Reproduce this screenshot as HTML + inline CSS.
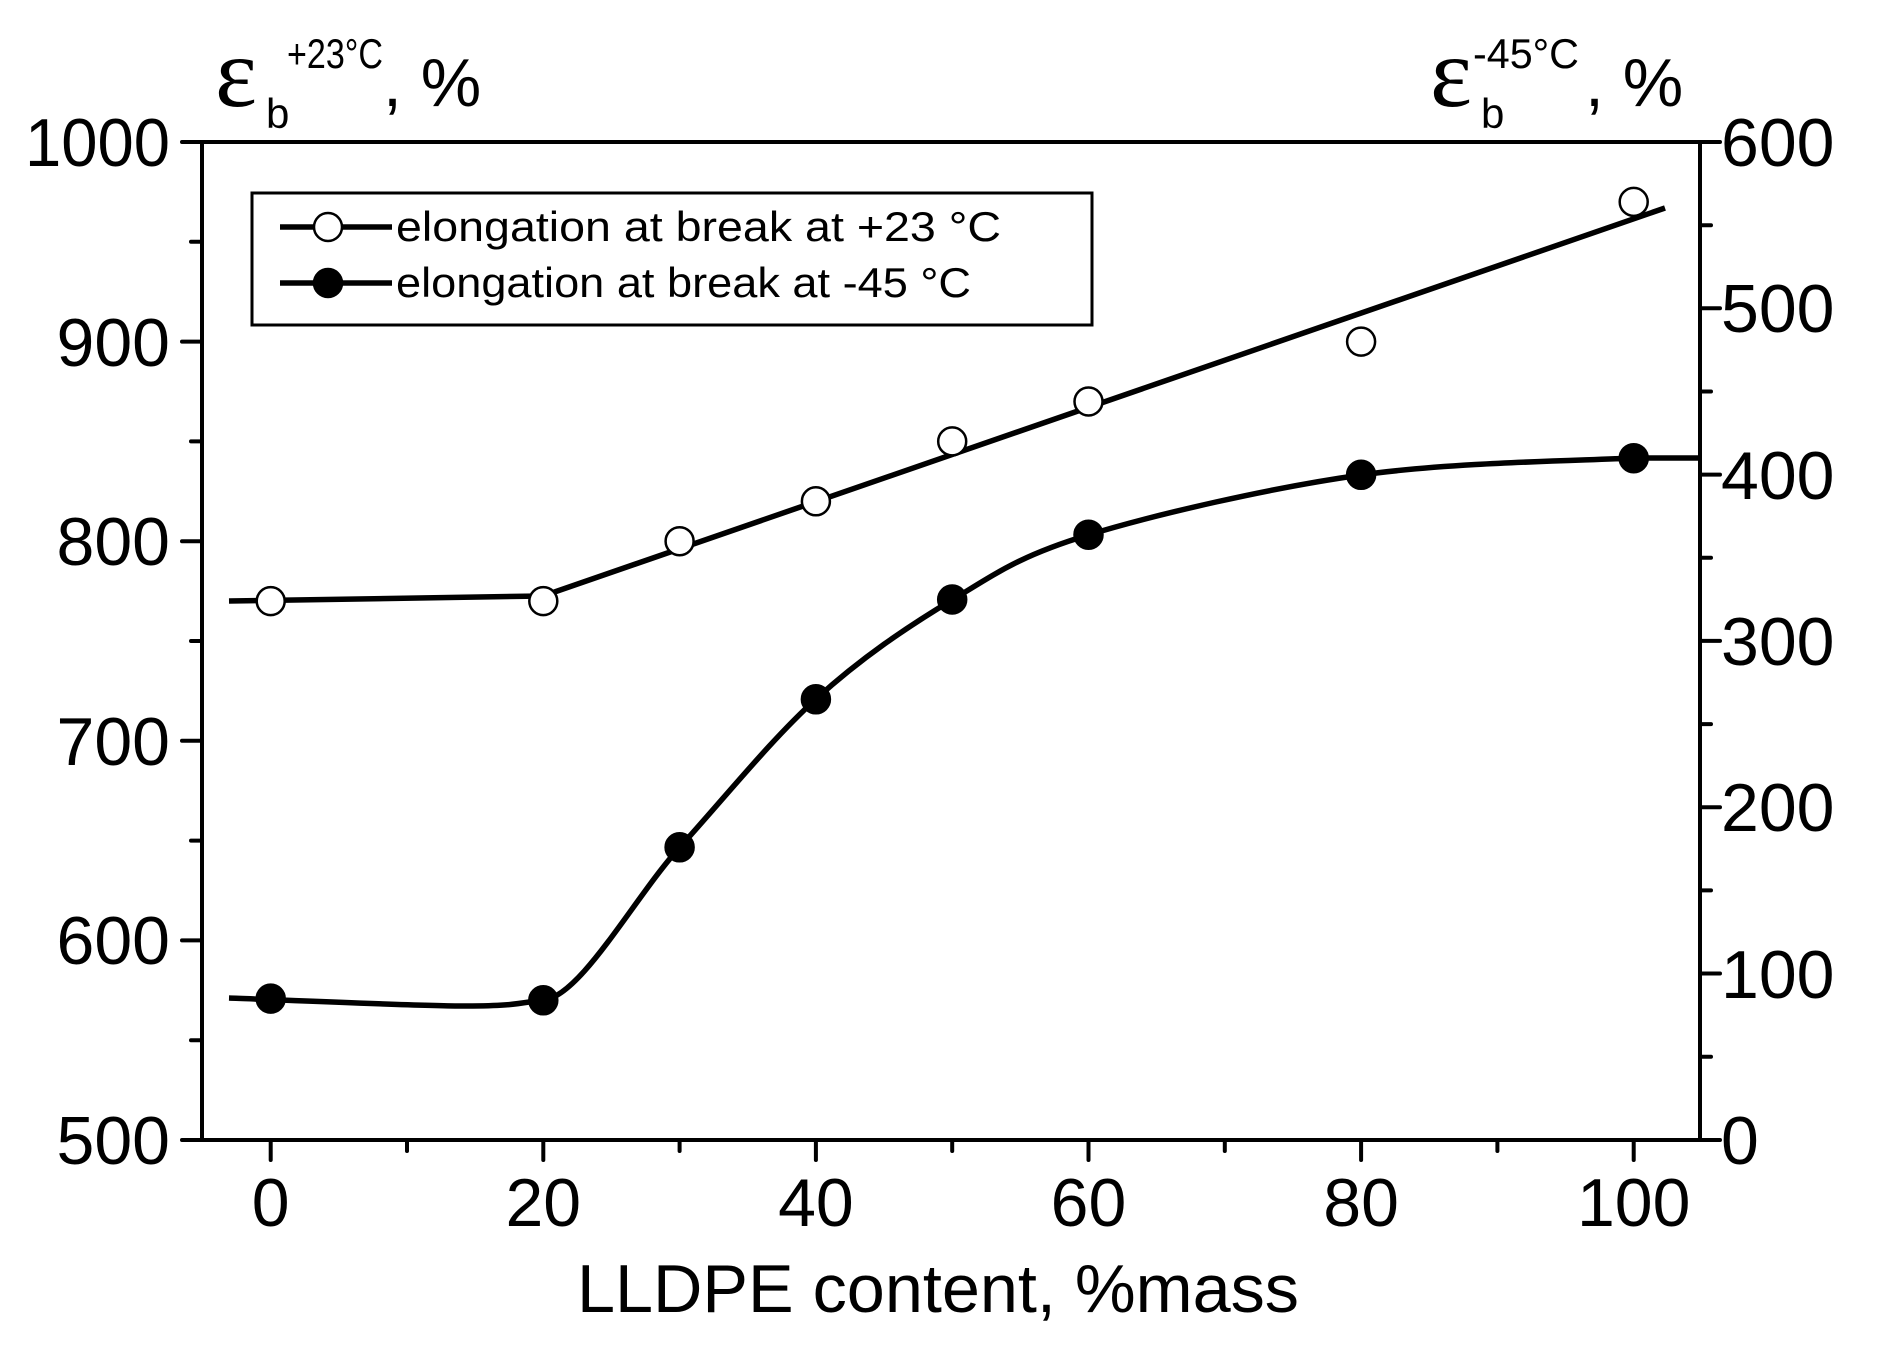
<!DOCTYPE html>
<html><head><meta charset="utf-8"><style>
html,body{margin:0;padding:0;background:#fff;}
svg{display:block;font-family:"Liberation Sans",Arial,sans-serif;}
</style></head><body>
<svg width="1890" height="1347" viewBox="0 0 1890 1347" xmlns="http://www.w3.org/2000/svg">
<rect width="1890" height="1347" fill="#fff"/>
<g stroke="#000" stroke-width="4" fill="none" stroke-linecap="round">
<rect x="202" y="142" width="1498" height="998"/>
<path d="M270.7,1140v20M543.3,1140v20M815.9,1140v20M1088.5,1140v20M1361.1,1140v20M1633.7,1140v20"/>
<path d="M407,1140v11M679.6,1140v11M952.2,1140v11M1224.8,1140v11M1497.4,1140v11"/>
<path d="M202,142h-20M202,341.6h-20M202,541.2h-20M202,740.8h-20M202,940.4h-20M202,1140h-20"/>
<path d="M202,241.8h-11M202,441.4h-11M202,641h-11M202,840.6h-11M202,1040.2h-11"/>
<path d="M1700,142h20M1700,308.3h20M1700,474.6h20M1700,640.9h20M1700,807.2h20M1700,973.5h20M1700,1140h20"/>
<path d="M1700,225.2h11M1700,391.5h11M1700,557.8h11M1700,724.1h11M1700,890.4h11M1700,1056.7h11"/>
</g>
<g font-size="68" fill="#000">
<g text-anchor="middle">
<text x="270.7" y="1226">0</text><text x="543.3" y="1226">20</text><text x="815.9" y="1226">40</text>
<text x="1088.5" y="1226">60</text><text x="1361.1" y="1226">80</text><text x="1633.7" y="1226">100</text>
<text x="938" y="1312" textLength="722" lengthAdjust="spacingAndGlyphs">LLDPE content, %mass</text>
</g>
<g text-anchor="end">
<text x="170" y="166" textLength="145" lengthAdjust="spacingAndGlyphs">1000</text><text x="170" y="366">900</text><text x="170" y="565">800</text>
<text x="170" y="765">700</text><text x="170" y="964">600</text><text x="170" y="1164">500</text>
</g>
<g text-anchor="start">
<text x="1721" y="166">600</text><text x="1721" y="332">500</text><text x="1721" y="499">400</text>
<text x="1721" y="665">300</text><text x="1721" y="831">200</text><text x="1721" y="998">100</text><text x="1721" y="1164">0</text>
</g>
<text x="215" y="106" font-family="Liberation Serif,serif" font-size="100">ε</text>
<text x="266" y="128" font-size="42">b</text>
<text x="287" y="68" font-size="42" textLength="96" lengthAdjust="spacingAndGlyphs">+23°C</text>
<text x="383" y="106">, %</text>
<text x="1430" y="106" font-family="Liberation Serif,serif" font-size="100">ε</text>
<text x="1481" y="128" font-size="42">b</text>
<text x="1473" y="68" font-size="42" textLength="106" lengthAdjust="spacingAndGlyphs">-45°C</text>
<text x="1585" y="106">, %</text>
</g>
<rect x="252" y="193" width="840" height="132" fill="#fff" stroke="#000" stroke-width="3"/>
<g stroke="#000" stroke-width="5.5">
<line x1="280" y1="227" x2="392" y2="227"/>
<line x1="280" y1="283" x2="392" y2="283"/>
</g>
<circle cx="328" cy="227" r="14" fill="#fff" stroke="#000" stroke-width="2.5"/>
<circle cx="328" cy="283" r="14" fill="#000" stroke="#000" stroke-width="2.5"/>
<g font-size="42" fill="#000">
<text x="396" y="241" textLength="605" lengthAdjust="spacingAndGlyphs">elongation at break at +23 °C</text>
<text x="396" y="297" textLength="575" lengthAdjust="spacingAndGlyphs">elongation at break at -45 °C</text>
</g>
<g stroke="#000" stroke-width="5.5" fill="none">
<path d="M229,601 L543,596 L1665,208"/>
<path d="M229,998 C267.7,999.3 408.7,1005.7 461,1006 C513.3,1006.3 520,1003 543,1000 C580,998 634.5,897 680,847 C725.5,796.8 770.7,740.2 816,699 C861.3,657.8 906.7,627.3 952,600 C997.3,572.7 1019.8,555.8 1088,535 C1156.2,514.2 1270,487.8 1361,475 C1452,462.2 1577.5,460.8 1634,458 L1700,458"/>
</g>
<g fill="#fff" stroke="#000" stroke-width="2.5">
<circle cx="270.7" cy="601.1" r="14"/><circle cx="543.3" cy="601.1" r="14"/><circle cx="679.6" cy="541.2" r="14"/>
<circle cx="815.9" cy="501.3" r="14"/><circle cx="952.2" cy="441.4" r="14"/><circle cx="1088.5" cy="401.5" r="14"/>
<circle cx="1361.1" cy="341.6" r="14"/><circle cx="1633.7" cy="201.9" r="14"/>
</g>
<g fill="#000" stroke="#000" stroke-width="2.5">
<circle cx="270.7" cy="998.6" r="14"/><circle cx="543.3" cy="1000.3" r="14"/><circle cx="679.6" cy="847.3" r="14"/>
<circle cx="815.9" cy="699.3" r="14"/><circle cx="952.2" cy="599.5" r="14"/><circle cx="1088.5" cy="534.7" r="14"/>
<circle cx="1361.1" cy="474.8" r="14"/><circle cx="1633.7" cy="458.2" r="14"/>
</g>
</svg>
</body></html>
